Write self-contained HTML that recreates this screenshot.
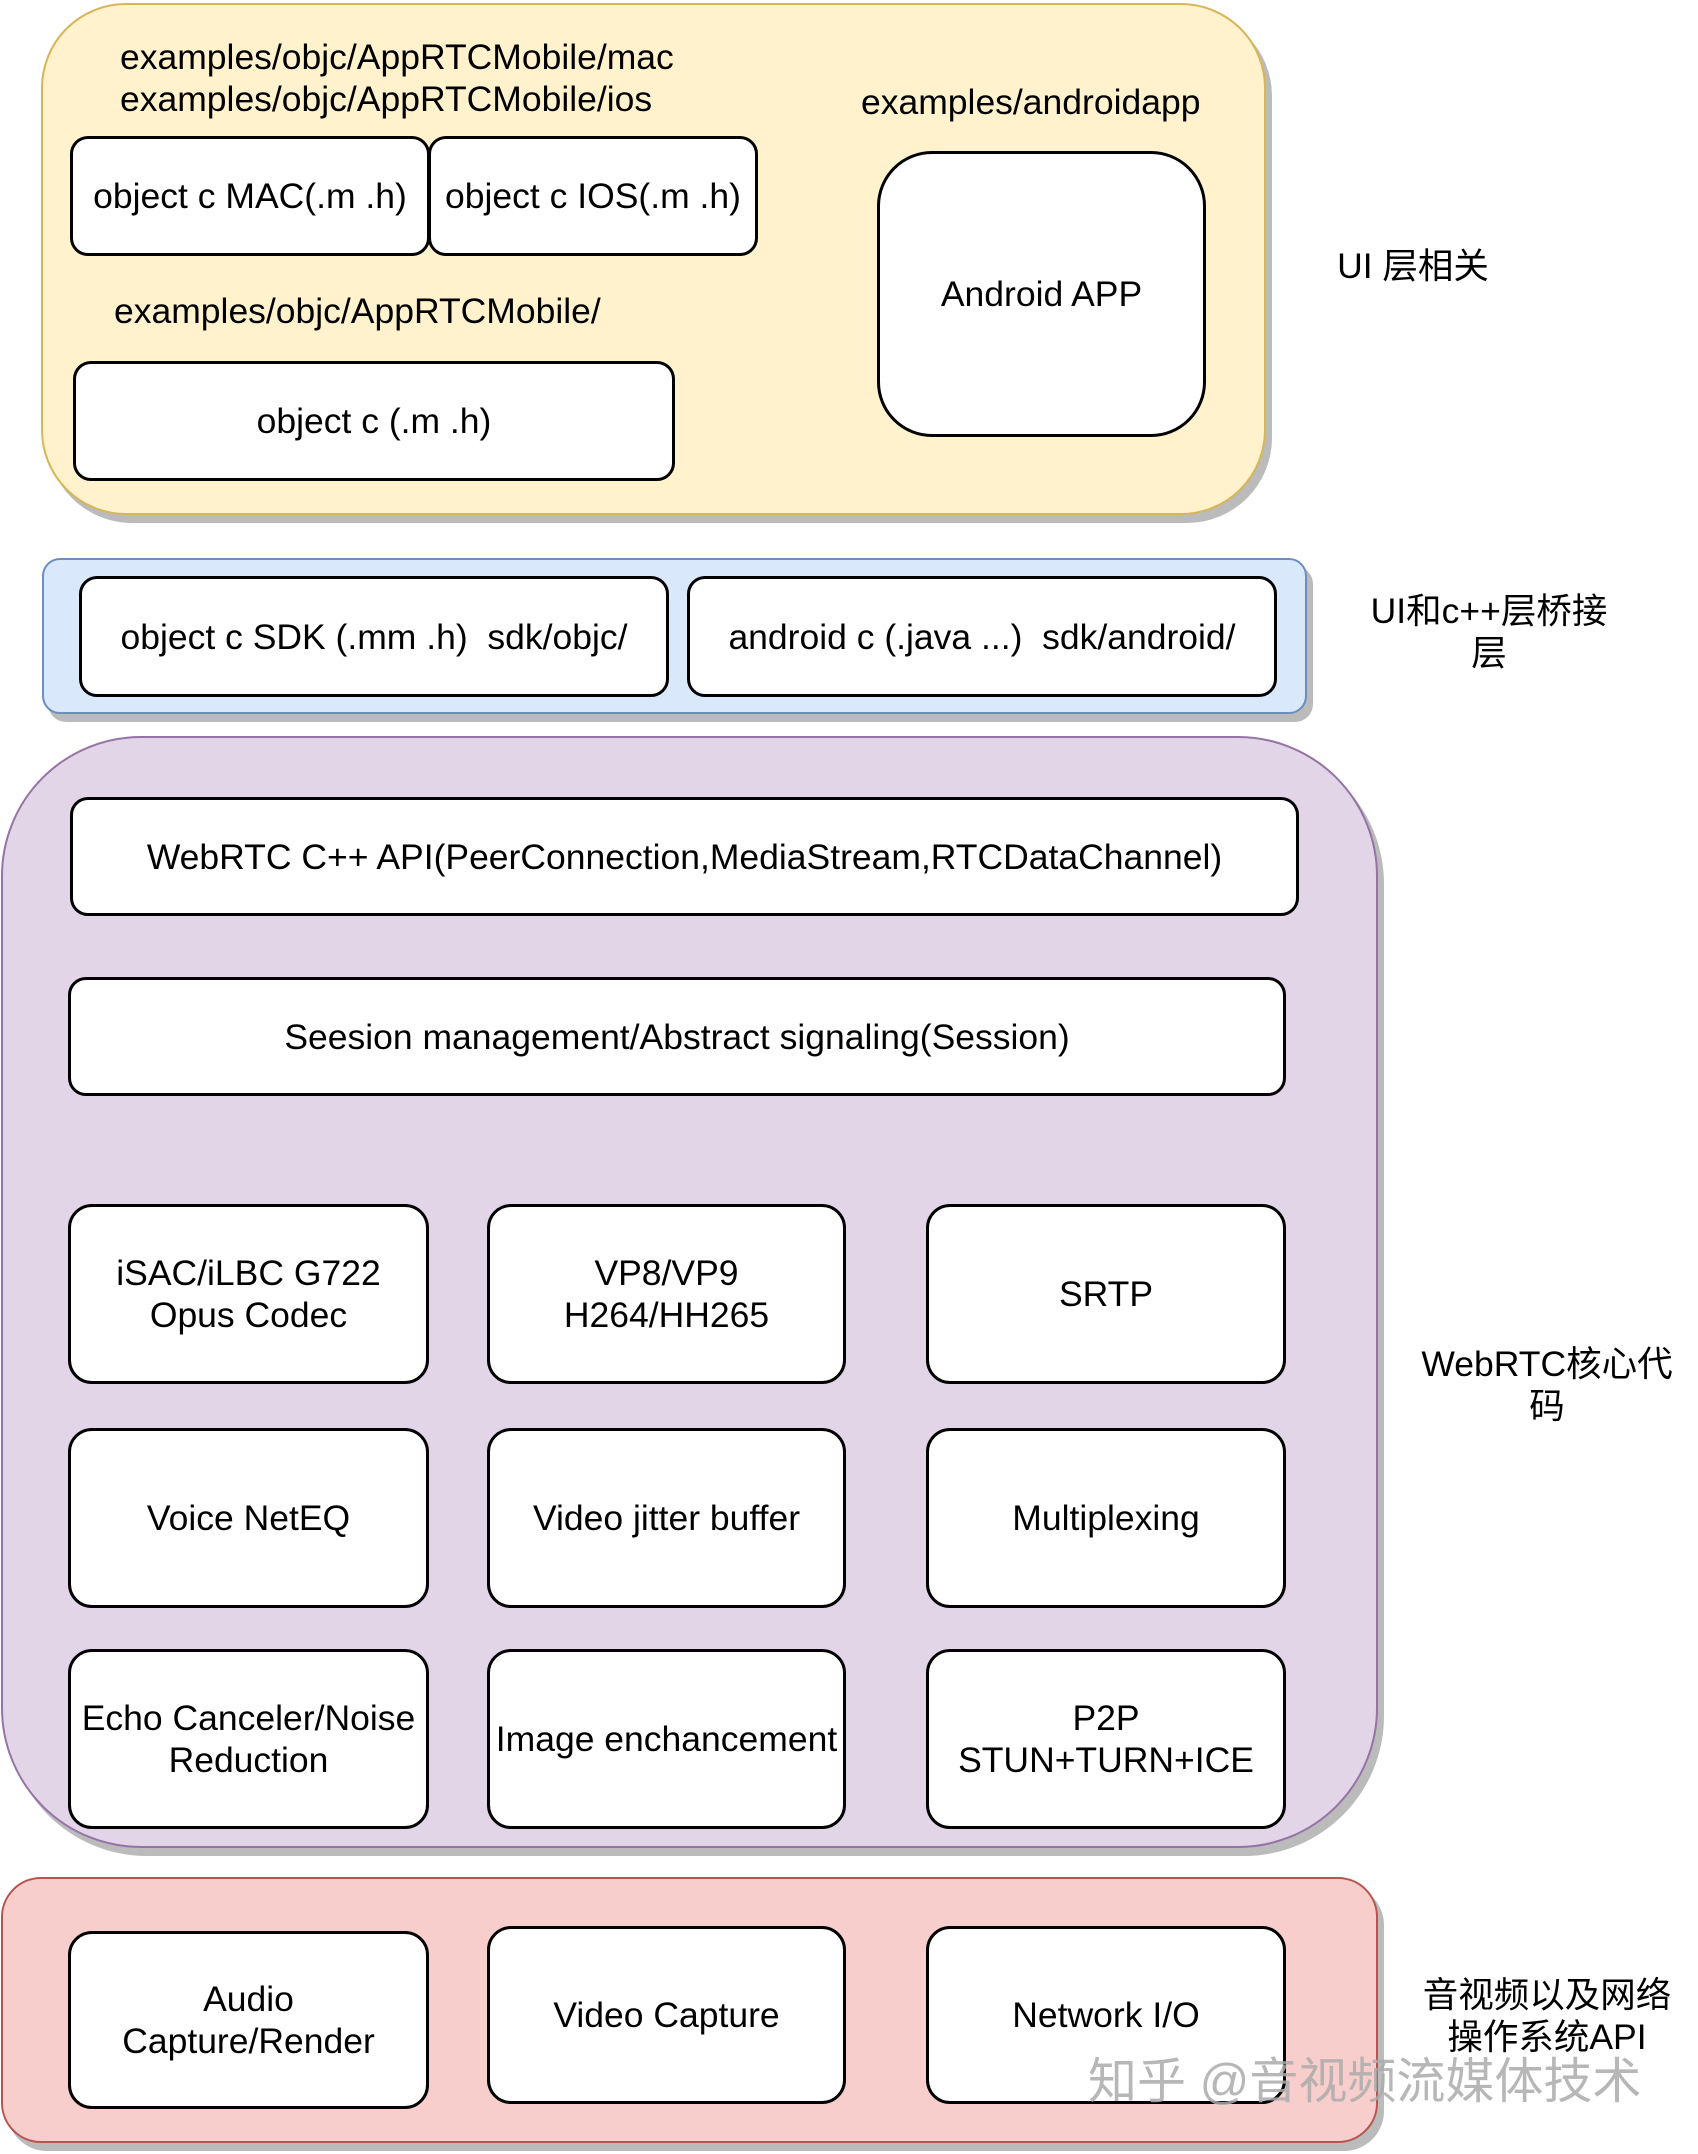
<!DOCTYPE html>
<html><head><meta charset="utf-8"><style>
body{margin:0;width:1698px;height:2154px;background:#fff;position:relative;overflow:hidden;font-family:"Liberation Sans","Noto Sans CJK SC",sans-serif;color:#000}
.c{position:absolute;box-sizing:border-box;border:2px solid}
.b{position:absolute;box-sizing:border-box;background:#fff;border:3px solid #000;border-radius:24px;display:flex;align-items:center;justify-content:center;text-align:center;font-size:35.5px;line-height:42px}
.t{position:absolute;font-size:35.5px;line-height:42px;white-space:nowrap}
.l{position:absolute;font-size:35.5px;line-height:42px;text-align:center;white-space:nowrap;transform:translateX(-50%)}
</style></head><body>
<div class="c" style="left:41px;top:3px;width:1225px;height:512px;background:#fff2cc;border-color:#d6b656;border-radius:85px;box-shadow:6px 8px 0 #bbb"></div>
<div class="t" style="left:120px;top:36px">examples/objc/AppRTCMobile/mac</div>
<div class="t" style="left:120px;top:78px">examples/objc/AppRTCMobile/ios</div>
<div class="t" style="left:861px;top:81px">examples/androidapp</div>
<div class="t" style="left:114px;top:290px">examples/objc/AppRTCMobile/</div>
<div class="b" style="left:70px;top:136px;width:360px;height:120px;border-radius:18px">object c MAC(.m .h)</div>
<div class="b" style="left:428px;top:136px;width:330px;height:120px;border-radius:18px">object c IOS(.m .h)</div>
<div class="b" style="left:73px;top:361px;width:602px;height:120px;border-radius:18px">object c (.m .h)</div>
<div class="b" style="left:877px;top:151px;width:329px;height:286px;border-radius:55px">Android APP</div>
<div class="l" style="left:1413px;top:245px">UI 层相关</div>

<div class="c" style="left:42px;top:558px;width:1265px;height:156px;background:#dae8fc;border-color:#6c8ebf;border-radius:18px;box-shadow:6px 8px 0 #bbb"></div>
<div class="b" style="left:79px;top:576px;width:590px;height:121px;border-radius:18px">object c SDK (.mm .h)&nbsp; sdk/objc/</div>
<div class="b" style="left:687px;top:576px;width:590px;height:121px;border-radius:18px">android c (.java ...)&nbsp; sdk/android/</div>
<div class="l" style="left:1489px;top:590px">UI和c++层桥接<br>层</div>

<div class="c" style="left:1px;top:736px;width:1377px;height:1112px;background:#e1d5e7;border-color:#9673a6;border-radius:140px;box-shadow:6px 8px 0 #bbb"></div>
<div class="b" style="left:70px;top:797px;width:1229px;height:119px;border-radius:18px">WebRTC C++ API(PeerConnection,MediaStream,RTCDataChannel)</div>
<div class="b" style="left:68px;top:977px;width:1218px;height:119px;border-radius:18px">Seesion management/Abstract signaling(Session)</div>
<div class="b" style="left:68px;top:1204px;width:361px;height:180px">iSAC/iLBC G722<br>Opus Codec</div>
<div class="b" style="left:487px;top:1204px;width:359px;height:180px">VP8/VP9<br>H264/HH265</div>
<div class="b" style="left:926px;top:1204px;width:360px;height:180px">SRTP</div>
<div class="b" style="left:68px;top:1428px;width:361px;height:180px">Voice NetEQ</div>
<div class="b" style="left:487px;top:1428px;width:359px;height:180px">Video jitter buffer</div>
<div class="b" style="left:926px;top:1428px;width:360px;height:180px">Multiplexing</div>
<div class="b" style="left:68px;top:1649px;width:361px;height:180px;white-space:nowrap">Echo Canceler/Noise<br>Reduction</div>
<div class="b" style="left:487px;top:1649px;width:359px;height:180px;white-space:nowrap">Image enchancement</div>
<div class="b" style="left:926px;top:1649px;width:360px;height:180px">P2P<br>STUN+TURN+ICE</div>
<div class="l" style="left:1547px;top:1343px">WebRTC核心代<br>码</div>

<div class="c" style="left:1px;top:1877px;width:1377px;height:266px;background:#f8cecc;border-color:#b85450;border-radius:40px;box-shadow:6px 8px 0 #bbb"></div>
<div class="b" style="left:68px;top:1931px;width:361px;height:178px">Audio<br>Capture/Render</div>
<div class="b" style="left:487px;top:1926px;width:359px;height:178px">Video Capture</div>
<div class="b" style="left:926px;top:1926px;width:360px;height:178px">Network I/O</div>
<div class="l" style="left:1547px;top:1974px">音视频以及网络<br>操作系统API</div>
<div class="t" style="left:1088px;top:2052px;font-size:49px;line-height:60px;color:rgba(170,170,170,0.85)">知乎 @音视频流媒体技术</div>
</body></html>
